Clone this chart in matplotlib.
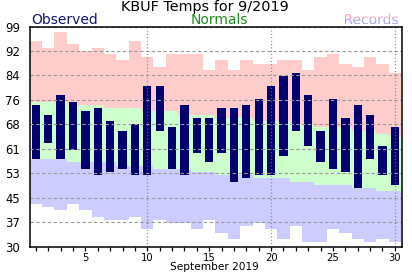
import numpy as np
import matplotlib
matplotlib.use("Agg")
import matplotlib.pyplot as plt
from matplotlib.textpath import TextPath
from matplotlib.patches import PathPatch
from matplotlib.font_manager import FontProperties
from matplotlib.transforms import Affine2D
from matplotlib.colors import LinearSegmentedColormap

# ---- data ----
days = list(range(1, 31))
obs_high = [74, 71, 77, 75, 72, 73, 69, 66, 68, 80, 80, 67, 74, 70, 70,
            73, 73, 74, 76, 80, 83, 84, 77, 66, 76, 70, 74, 71, 61, 67]
obs_low = [57, 62, 57, 60, 54, 52, 53, 54, 52, 52, 66, 54, 52, 59, 56,
           59, 50, 51, 52, 52, 58, 66, 61, 56, 54, 53, 48, 57, 52, 49]
norm_high = [75, 75, 75, 74, 74, 74, 73, 73, 73, 72, 72, 72, 71, 71, 71,
             70, 70, 70, 69, 69, 69, 68, 68, 67, 67, 67, 66, 66, 65, 64]
norm_low = [57, 57, 57, 56, 56, 56, 56, 55, 55, 55, 54, 54, 54, 53, 53,
            52, 52, 52, 51, 51, 51, 50, 50, 49, 49, 49, 48, 48, 47, 47]
rec_high = [94, 92, 97, 93, 91, 92, 90, 88, 94, 89, 86, 90, 90, 90, 85,
            88, 85, 88, 87, 87, 88, 88, 85, 89, 90, 87, 86, 89, 87, 84]
rec_low = [43, 42, 41, 43, 41, 39, 38, 38, 39, 35, 38, 37, 37, 35, 38,
           34, 32, 36, 37, 35, 32, 36, 31, 31, 35, 34, 32, 31, 32, 31]
y_tick_labels = ["30", "37", "45", "53", "61", "68", "76", "84", "92", "99"]
x_tick_labels = ["5", "10", "15", "20", "25", "30"]
x_grid_days = [10, 20, 30]

W, H = 412, 276
fig = plt.figure(figsize=(W / 100, H / 100), dpi=100)
L, R, T, B = 30.3, 402.3, 26.5, 246.7
ax = fig.add_axes([L / W, 1 - B / H, (R - L) / W, (B - T) / H])

x = np.array(days)
rl, nl, nh, rh = map(np.array, (rec_low, norm_low, norm_high, rec_high))
oh, ol = np.array(obs_high), np.array(obs_low)

ax.bar(x, nl - rl, bottom=rl, width=1.0, color="#ccccff", linewidth=0, zorder=1)
ax.bar(x, nh - nl, bottom=nl, width=1.0, color="#ccffcc", linewidth=0, zorder=1)
ax.bar(x, rh - nh, bottom=nh, width=1.0, color="#ffcccc", linewidth=0, zorder=1)
ax.bar(x, oh - ol, bottom=ol, width=0.67, color="#00006e", linewidth=0, zorder=2)

lo, hi = 29.6, 98.6
ax.set_ylim(lo, hi)
ax.set_xlim(0.55, 30.6)
ax.set_yticks(np.linspace(lo, hi, len(y_tick_labels)))
ax.set_yticklabels(y_tick_labels, fontsize=8.4)
ax.tick_params(axis="y", length=0, pad=7.5)

xlabels = [""] * len(days)
for s in x_tick_labels:
    xlabels[int(s) - 1] = s
ax.set_xticks(days)
ax.set_xticklabels(xlabels, fontsize=7.2)
ax.tick_params(axis="x", length=3, width=0.9, direction="out", pad=1.5)

ax.set_axisbelow(False)
ax.yaxis.grid(True, color="#999999", linestyle=(0, (3, 2.2)), linewidth=0.8)
for d in x_grid_days:
    ax.axvline(d, color="#777777", linestyle=(0, (0.7, 2)), linewidth=0.9, zorder=3)

for sp in ax.spines.values():
    sp.set_linewidth(1.1)
    sp.set_zorder(4)

# texts
fig.text(204.5 / W, 1 - 10.9 / H, "KBUF Temps for 9/2019", ha="center", va="baseline",
         fontsize=10.4, color="black")
fig.text(31 / W, 1 - 24.2 / H, "Observed", ha="left", va="baseline",
         fontsize=10, color="#141478")
fig.text(219.5 / W, 1 - 24.2 / H, "Normals", ha="center", va="baseline",
         fontsize=10, color="#228b22")
fig.text(214 / W, 1 - 267.5 / H, "September 2019", ha="center", va="center",
         fontsize=7.6, color="black")

# "Records" with a pink -> lavender vertical gradient
oax = fig.add_axes([0, 0, 1, 1], facecolor="none")
oax.set_axis_off()
fp = FontProperties(family="DejaVu Sans")
tp = TextPath((0, 0), "Records", size=13.9, prop=fp)
ext = tp.get_extents()
path = tp.transformed(Affine2D().translate(398 - ext.x1, H - 24.2))
patch = PathPatch(path, facecolor="none", edgecolor="none", transform=oax.transData)
oax.add_patch(patch)
bb = path.get_extents()
grad = np.linspace(0, 1, 64).reshape(-1, 1)
cmap = LinearSegmentedColormap.from_list(
    "rec", ["#a4a4ff", "#a8a8ff", "#ffa6c0", "#ffa3bd"])
im = oax.imshow(grad, extent=[bb.x0, bb.x1, bb.y0, bb.y1], origin="lower",
                cmap=cmap, aspect="auto", interpolation="bilinear")
im.set_clip_path(patch)
oax.set_xlim(0, W)
oax.set_ylim(0, H)

fig.savefig("out.png", dpi=100)
